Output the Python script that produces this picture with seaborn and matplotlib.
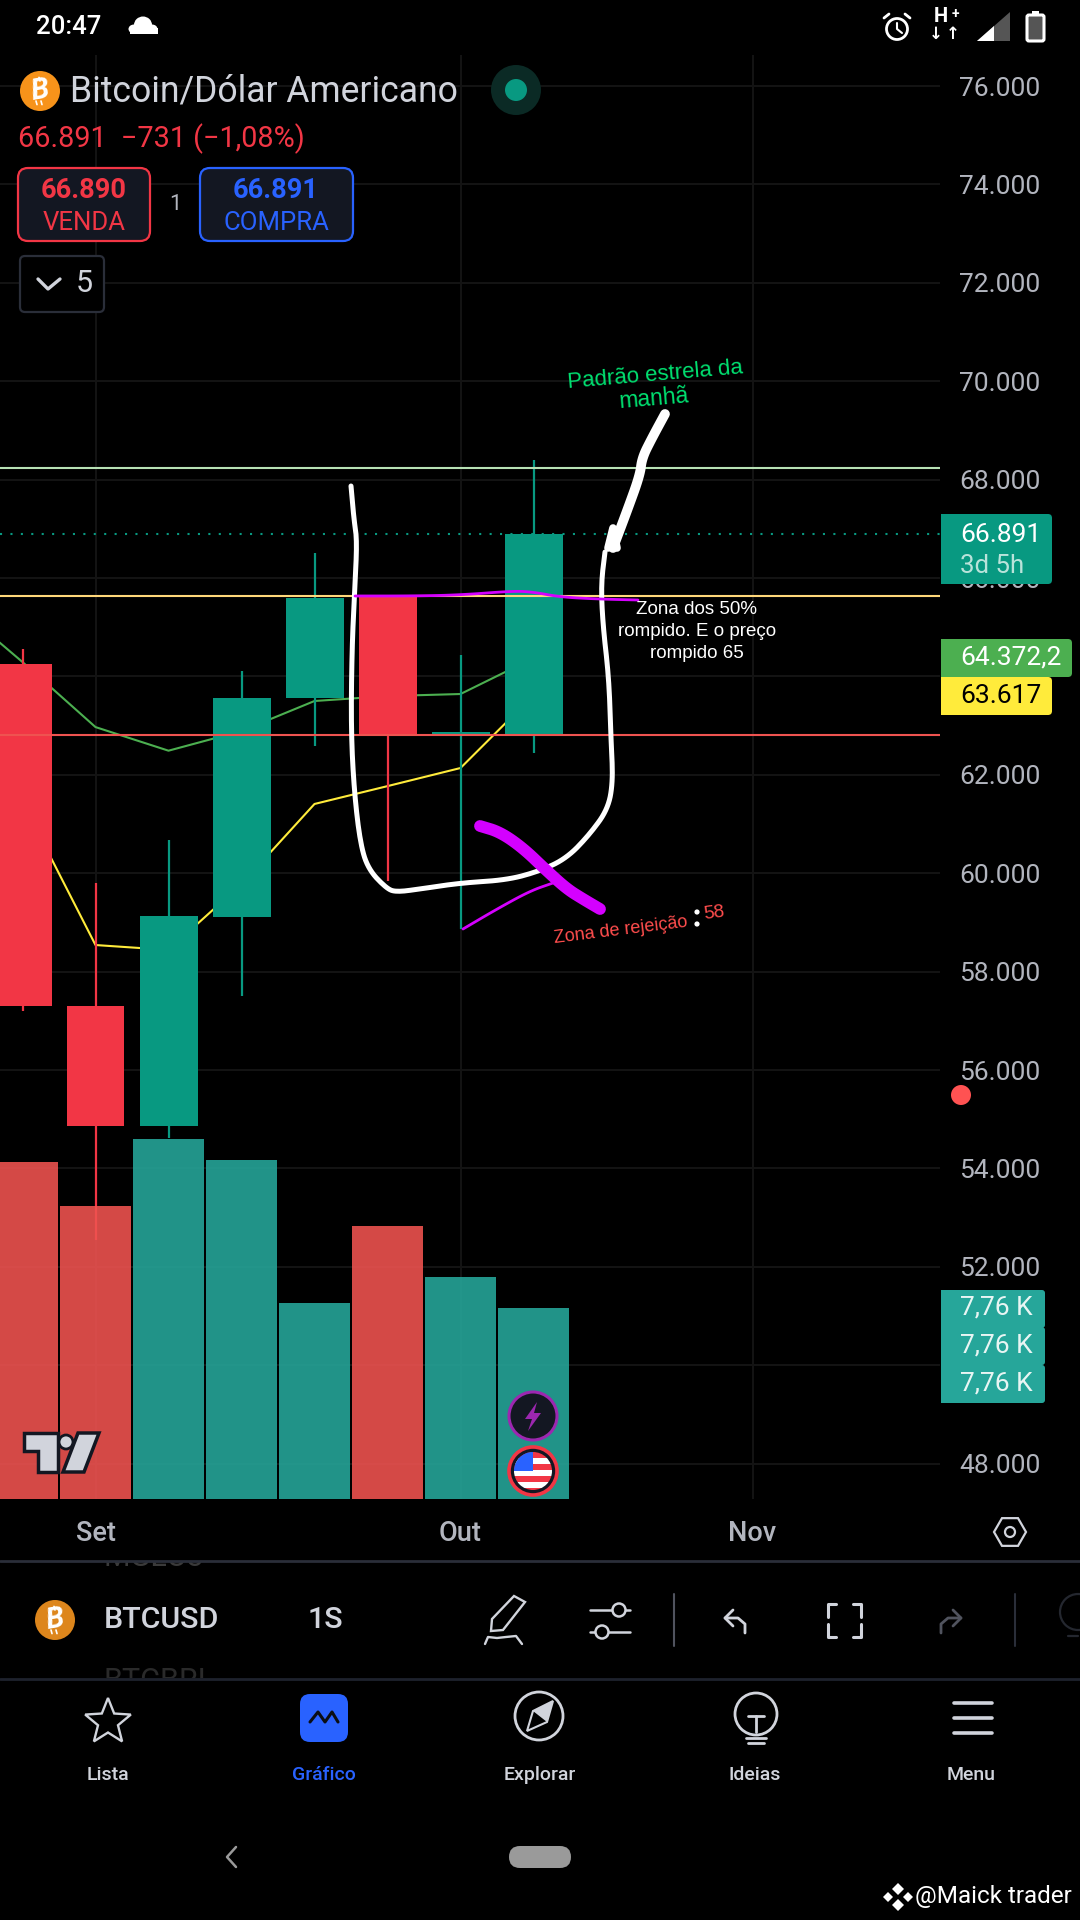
import numpy as np
import pandas as pd
import matplotlib
matplotlib.use("Agg")
import matplotlib.pyplot as plt
import seaborn as sns
from matplotlib.patches import Circle, FancyBboxPatch, Polygon, Rectangle, Ellipse
from matplotlib.ticker import FuncFormatter

# candles (semanal)
weeks = [0, 1, 2, 3, 4, 5, 6, 7]
opens = [64261, 57298, 54860, 59115, 63565, 65630, 62820, 62830]
highs = [64560, 59810, 60680, 64110, 66500, 65630, 64435, 68398]
lows = [57200, 52545, 54610, 57497, 62595, 59835, 58866, 62443]
closes = [57298, 54860, 59140, 63565, 65600, 62820, 62880, 66891]
volumes = [13680, 11890, 14620, 13780, 7960, 11090, 9000, 7760]

# medias moveis
ma_green_x = [-1, 0, 1, 2, 3, 4, 5, 6, 7]
ma_green = [65555, 64292, 62970, 62490, 62890, 63500, 63600, 63642, 64372.2]
ma_yellow_x = [0, 1, 2, 3, 4, 5, 6, 7]
ma_yellow = [61446, 58540, 58440, 59780, 61407, 61770, 62138, 63617]

# niveis horizontais
level_top = 68240
level_mid = 65634
level_low = 62815
last_price = 66891

price_ticks = list(range(48000, 76001, 2000))
month_pos = [1, 6, 10]
month_labels = ["Set", "Out", "Nov"]

W, H = 1080, 1920
BG = "#000000"
GREEN = "#089981"
RED = "#f23645"
BLUE = "#2962ff"
GRAY = "#b2b5be"
LIGHT = "#d1d4dc"

sns.set_theme(style="dark", rc={"figure.facecolor": BG, "axes.facecolor": BG,
                                "patch.force_edgecolor": False, "patch.edgecolor": "none"})
plt.rcParams["font.family"] = ["Roboto", "DejaVu Sans"]

fig = plt.figure(figsize=(W / 100, H / 100), dpi=100, facecolor=BG)

# caixa do grafico em pixels
left, right, top, bottom = 0, 940, 55, 1499
box = [left / W, 1 - bottom / H, (right - left) / W, (bottom - top) / H]
px_per_week = 73.0
px_per_price = 0.0492
xlim = ((left - 22.5) / px_per_week, (right - 22.5) / px_per_week)
ylim = (76000 - (bottom - 86) / px_per_price, 76000 + (86 - top) / px_per_price)

ax = fig.add_axes(box, zorder=1)
ax.set_facecolor(BG)

sns.lineplot(x=ma_green_x, y=ma_green, color="#4caf50", lw=1.5, ax=ax, zorder=2)
sns.lineplot(x=ma_yellow_x, y=ma_yellow, color="#ffeb3b", lw=1.5, ax=ax, zorder=2)

colors = [GREEN if c >= o else RED for o, c in zip(opens, closes)]
ax.vlines(weeks, lows, highs, colors=colors, lw=1.6, zorder=3)
ax.bar(weeks, [max(abs(c - o), 60) for o, c in zip(opens, closes)],
       bottom=[min(o, c) for o, c in zip(opens, closes)],
       width=58 / px_per_week, color=colors, edgecolor="none", linewidth=0, zorder=3)

ax.axhline(level_top, color="#b7e1b4", lw=1.5, zorder=4)
ax.axhline(level_mid, color="#ffd77a", lw=1.5, zorder=4)
ax.axhline(level_low, color="#ef5350", lw=1.5, zorder=4)
ax.axhline(last_price, color=GREEN, lw=1.5, ls=(0, (1, 4)), zorder=2)

ax.set_xlim(xlim)
ax.set_ylim(ylim)
ax.set_yticks(price_ticks)
ax.yaxis.set_major_formatter(FuncFormatter(lambda v, p: f"{int(v):,}".replace(",", ".")))
ax.yaxis.tick_right()
ax.set_xticks(month_pos)
ax.set_xticklabels(month_labels, fontweight="medium")
ax.tick_params(axis="y", length=0, pad=14, labelsize=19, labelcolor=GRAY)
ax.tick_params(axis="x", length=0, pad=15, labelsize=19.5, labelcolor=GRAY)
ax.set_xlabel("")
ax.set_ylabel("")
ax.grid(True, color="#131313", lw=1.5)
ax.set_axisbelow(True)
sns.despine(ax=ax, left=True, bottom=True)

# volume por cima, mesma caixa
ax_vol = fig.add_axes(box, zorder=2)
vol_df = pd.DataFrame({"week": weeks, "vol": volumes,
                       "dir": ["up" if c == GREEN else "down" for c in colors]})
sns.barplot(data=vol_df, x="week", y="vol", hue="dir", native_scale=True, dodge=False,
            palette={"up": "#26a69a", "down": "#ef5350"}, width=71 / px_per_week,
            saturation=1, alpha=0.89, legend=False, edgecolor="none", linewidth=0, ax=ax_vol)
ax_vol.set_xlim(xlim)
ax_vol.set_ylim(0, (bottom - top) * 40.62)
ax_vol.axis("off")
ax_vol.patch.set_alpha(0)

# camada em pixels: interface e desenhos
ui = fig.add_axes([0, 0, 1, 1], zorder=5)
ui.set_xlim(0, W)
ui.set_ylim(H, 0)
ui.axis("off")
ui.patch.set_alpha(0)


def rbox(x, y, w, h, r, fc, ec="none", lw=0, z=5):
    p = FancyBboxPatch((x + r, y + r), w - 2 * r, h - 2 * r,
                       boxstyle=f"round,pad={r},rounding_size={r}",
                       fc=fc, ec=ec, lw=lw, zorder=z)
    ui.add_patch(p)
    return p


def txt(x, y, s, size, color="white", ha="center", va="center", weight="normal", rot=0, z=8, **kw):
    return ui.text(x, y, s, fontsize=size, color=color, ha=ha, va=va, fontweight=weight,
                   rotation=rot, rotation_mode="anchor", zorder=z, **kw)


def ln(pts, color, lw=2, z=7, **kw):
    a = np.array(pts, dtype=float)
    ui.plot(a[:, 0], a[:, 1], color=color, lw=lw, zorder=z, solid_capstyle="round",
            solid_joinstyle="round", **kw)


def smooth(pts, n=3):
    a = np.array(pts, dtype=float)
    for _ in range(n):
        q = 0.75 * a[:-1] + 0.25 * a[1:]
        r = 0.25 * a[:-1] + 0.75 * a[1:]
        mid = np.empty((q.shape[0] * 2, 2))
        mid[0::2] = q
        mid[1::2] = r
        a = np.vstack([a[0], mid, a[-1]])
    return a


def btc_icon(x, y, r, color="#f7931a"):
    ui.add_patch(Circle((x, y), r, fc=color, ec="none", zorder=6))
    txt(x, y, "B", r * 1.05, "white", weight="bold", style="italic", rot=10)
    ln([(x - 1, y - r * 0.68), (x, y - r * 0.5)], "white", 1.2, z=8)
    ln([(x + 4, y - r * 0.62), (x + 5, y - r * 0.45)], "white", 1.2, z=8)
    ln([(x - 4, y + r * 0.5), (x - 3, y + r * 0.68)], "white", 1.2, z=8)
    ln([(x + 1, y + r * 0.5), (x + 2, y + r * 0.68)], "white", 1.2, z=8)


# barra de status
txt(36, 27, "20:47", 18.5, "white", ha="left", weight="medium")
ui.add_patch(Ellipse((143, 25), 18, 17, fc="white", zorder=6))
ui.add_patch(Ellipse((134, 29), 11, 9, fc="white", zorder=6))
ui.add_patch(Ellipse((152, 29), 11, 9, fc="white", zorder=6))
ui.add_patch(Rectangle((130, 28), 28, 6, fc="white", zorder=6))
ui.add_patch(Circle((897, 29), 10.5, fc="none", ec="white", lw=2, zorder=6))
ln([(897, 23), (897, 29), (902, 33)], "white", 1.5)
ln([(884, 18), (889, 14)], "white", 2)
ln([(905, 14), (910, 18)], "white", 2)
txt(941, 17, "H", 14.5, "white", weight="bold")
txt(955, 14, "+", 10, "white", weight="bold")
txt(936, 34, "↓", 12, "white", weight="bold", family=["DejaVu Sans"])
txt(953, 34, "↑", 12, "white", weight="bold", family=["DejaVu Sans"])
ui.add_patch(Polygon([(977, 41), (1010, 12), (1010, 41)], fc="#555555", zorder=6))
ui.add_patch(Polygon([(977, 41), (994, 26), (994, 41)], fc="white", zorder=6))
rbox(1027, 15, 17, 26, 2, "#555555", "white", 2.2)
ui.add_patch(Rectangle((1032, 11), 7, 4, fc="white", zorder=6))

# cabecalho
btc_icon(40, 91, 20)
txt(70, 92, "Bitcoin/Dólar Americano", 25.6, LIGHT, ha="left")
ui.add_patch(Circle((516, 90), 25, fc="#0b2a25", zorder=6))
ui.add_patch(Circle((516, 90), 11, fc=GREEN, zorder=7))
txt(18, 139, "66.891  −731 (−1,08%)", 20.7, RED, ha="left")

rbox(18, 168, 132, 73, 10, "#131722", RED, 1.6)
txt(84, 191, "66.890", 19.6, RED, weight="bold")
txt(84, 223, "VENDA", 18.5, RED)
txt(175, 204, "1", 15.5, GRAY)
rbox(200, 168, 153, 73, 10, "#131722", BLUE, 1.6)
txt(276, 191, "66.891", 19.6, BLUE, weight="bold")
txt(276, 223, "COMPRA", 18.5, BLUE)
rbox(20, 256, 84, 56, 5, BG, "#2a2e39", 1.6)
ln([(38, 279), (48, 289), (60, 279)], LIGHT, 2.4)
txt(84, 284, "5", 22, LIGHT)

# etiquetas do eixo de precos
rbox(941, 514, 111, 70, 4, GREEN)
ui.add_patch(Rectangle((941, 514), 8, 70, fc=GREEN, zorder=5))
txt(960, 535, "66.891", 19, "white", ha="left")
txt(960, 566, "3d 5h", 18.5, "#b9e3da", ha="left")
rbox(941, 639, 131, 38, 4, "#4caf50")
ui.add_patch(Rectangle((941, 639), 8, 38, fc="#4caf50", zorder=5))
txt(960, 657, "64.372,2", 19, "white", ha="left")
rbox(941, 677, 111, 38, 4, "#ffeb3b")
ui.add_patch(Rectangle((941, 677), 8, 38, fc="#ffeb3b", zorder=5))
txt(960, 696, "63.617", 19, "black", ha="left")
for y0 in [1290, 1327, 1365]:
    rbox(941, y0, 104, 38, 3, "#26a69a")
    ui.add_patch(Rectangle((941, y0), 8, 38, fc="#26a69a", zorder=5))
    txt(960, y0 + 18, "7,76 K", 19, "#e8f5f3", ha="left")
ui.add_patch(Circle((961, 1095), 10, fc="#ff5252", zorder=6))

# desenhos a mao
white_thin = [(351, 486), (354, 520), (357, 540), (355, 585), (352, 646), (351, 728), (354, 789),
              (360, 842), (368, 869), (387, 889), (397, 892), (420, 889), (460, 883), (507, 880),
              (540, 871), (567, 858), (590, 834), (608, 809), (613, 781), (611, 740), (609, 679),
              (603, 626), (601, 585), (605, 552)]
white_thick = [(613, 548), (627, 511), (640, 475), (642, 458), (652, 438), (665, 414)]
magenta_top = [(355, 596), (413, 596), (460, 595), (513, 591), (533, 592), (560, 597), (597, 599), (638, 600)]
magenta_thick = [(480, 826), (500, 832), (523, 848), (547, 871), (567, 889), (583, 899), (600, 909)]
magenta_low = [(463, 929), (497, 909), (530, 891), (553, 883)]

s = smooth(white_thin)
ui.plot(s[:, 0], s[:, 1], color="white", lw=3.6, zorder=7, solid_capstyle="round")
s = smooth(white_thick)
ui.plot(s[:, 0], s[:, 1], color="white", lw=7, zorder=7, solid_capstyle="round")
ln([(608, 548), (613, 528), (617, 548)], "white", 5.5)
s = smooth(magenta_top)
ui.plot(s[:, 0], s[:, 1], color="#d400ff", lw=2, zorder=7, solid_capstyle="round")
s = smooth(magenta_low)
ui.plot(s[:, 0], s[:, 1], color="#d400ff", lw=2, zorder=7, solid_capstyle="round")
s = smooth(magenta_thick)
ui.plot(s[:, 0], s[:, 1], color="#d400ff", lw=8.5, zorder=7.5, solid_capstyle="round")

ANN = ["Liberation Sans", "DejaVu Sans"]
txt(655, 375, "Padrão estrela da", 16, "#00e070", rot=4.8, family=ANN)
txt(654, 399, "manhã", 16.5, "#00e070", rot=4.8, family=ANN)
txt(697, 609, "Zona dos 50%", 13.5, "white", family=ANN)
txt(697, 631, "rompido. E o preço", 13.5, "white", family=ANN)
txt(697, 653, "rompido 65", 13.5, "white", family=ANN)
txt(621, 930, "Zona de rejeição", 13, "#ff4d4d", rot=7, family=ANN)
ui.add_patch(Circle((697, 912), 2.6, fc="white", zorder=8))
ui.add_patch(Circle((697, 924), 2.6, fc="white", zorder=8))
txt(714, 913, "58", 13.5, "#ff4d4d", rot=7, family=ANN)

# logo e icones no volume
ui.add_patch(Polygon([(24, 1433), (58, 1433), (58, 1472), (38, 1472), (38, 1451), (24, 1451)],
                     fc=LIGHT, ec="#131722", lw=2.5, zorder=6))
ui.add_patch(Circle((66, 1442), 7, fc=LIGHT, ec="#131722", lw=2, zorder=6))
ui.add_patch(Polygon([(78, 1433), (99, 1433), (84, 1472), (63, 1472)], fc=LIGHT, ec="#131722", lw=2.5, zorder=6))

ui.add_patch(Circle((533, 1416), 24, fc="#131722", ec="#9c27b0", lw=2.2, zorder=6))
ui.add_patch(Polygon([(537, 1402), (525, 1419), (532, 1419), (528, 1431), (541, 1413), (534, 1413)],
                     fc="#9c27b0", zorder=7))
clip = Circle((533, 1471), 19, transform=ui.transData)
ui.add_patch(Circle((533, 1471), 24, fc="#131722", ec=RED, lw=2.6, zorder=6))
for i, y0 in enumerate(range(1452, 1490, 6)):
    r_ = Rectangle((511, y0), 44, 6, fc=RED if i % 2 == 0 else "white", zorder=7)
    ui.add_patch(r_)
    r_.set_clip_path(clip)
r_ = Rectangle((511, 1449), 22, 22, fc="#2962ff", zorder=7.5)
ui.add_patch(r_)
r_.set_clip_path(clip)

# engrenagem
ang = np.deg2rad(np.arange(0, 360, 60))
ui.add_patch(Polygon(np.c_[1010 + 16 * np.cos(ang), 1532 + 16 * np.sin(ang)], fc="none", ec=LIGHT, lw=1.6, zorder=6))
ui.add_patch(Circle((1010, 1532), 5, fc="none", ec=LIGHT, lw=1.6, zorder=6))

# linhas e textos atras da barra
ui.plot([0, W], [1561, 1561], color="#2a2e39", lw=2, zorder=6)
ui.plot([0, W], [1679, 1679], color="#1e222d", lw=2, zorder=6)
c1 = Rectangle((0, 1562), W, 8, transform=ui.transData)
c2 = Rectangle((0, 1668), W, 10, transform=ui.transData)
t1 = txt(104, 1557, "MGLU3", 22, "#3a3a3a", ha="left", z=5, clip_on=True)
t1.set_clip_path(c1)
t2 = txt(104, 1681, "BTCBRL", 22, "#2a2a2a", ha="left", z=5, clip_on=True)
t2.set_clip_path(c2)

# barra de ferramentas
btc_icon(55, 1620, 20, "#dd861c")
txt(104, 1620, "BTCUSD", 21.9, LIGHT, ha="left", weight="medium")
txt(325, 1620, "1S", 21.9, LIGHT, weight="medium")
# lapis
ui.add_patch(Polygon([(492, 1619), (514, 1596), (525, 1602), (503, 1630), (491, 1631)], fc="none", ec=LIGHT, lw=1.7, zorder=7))
ln([(485, 1644), (488, 1637), (497, 1638), (506, 1637), (516, 1636), (522, 1644)], LIGHT, 1.7)
# ajustes
ln([(590, 1610), (630, 1610)], LIGHT, 1.8)
ln([(590, 1632), (630, 1632)], LIGHT, 1.8)
ui.add_patch(Circle((619, 1610), 6.5, fc=BG, ec=LIGHT, lw=1.8, zorder=8))
ui.add_patch(Circle((602, 1632), 6.5, fc=BG, ec=LIGHT, lw=1.8, zorder=8))
ln([(674, 1594), (674, 1646)], "#50535e", 1.5)
# desfazer
ln([(745, 1633), (745, 1624), (738, 1618), (725, 1618)], LIGHT, 2)
ln([(733, 1610), (725, 1618), (733, 1626)], LIGHT, 2)
# tela cheia
for xs, ys in [((828, 828, 836), (1617, 1604, 1604)), ((853, 861, 861), (1604, 1604, 1617)),
               ((828, 828, 836), (1624, 1637, 1637)), ((853, 861, 861), (1637, 1637, 1624))]:
    ln(list(zip(xs, ys)), LIGHT, 2.2)
# refazer
ln([(941, 1633), (941, 1624), (948, 1618), (961, 1618)], "#50535e", 2)
ln([(953, 1610), (961, 1618), (953, 1626)], "#50535e", 2)
ln([(1015, 1594), (1015, 1646)], "#2a2e39", 1.5)
# lampada apagada
ui.add_patch(Circle((1078, 1612), 18, fc="none", ec="#24272f", lw=1.6, zorder=7))
ln([(1068, 1636), (1078, 1636)], "#24272f", 1.6)

# barra de navegacao
star_a = np.deg2rad(np.arange(-90, 270, 36))
star_r = np.where(np.arange(10) % 2 == 0, 24, 10.5)
ui.add_patch(Polygon(np.c_[108 + star_r * np.cos(star_a), 1722 + star_r * np.sin(star_a)],
                     fc="none", ec=LIGHT, lw=1.7, zorder=7))
rbox(300, 1694, 48, 48, 10, BLUE)
ln([(310, 1722), (318, 1712), (325, 1722), (332, 1712), (338, 1722)], "#0b0e14", 2.2)
ui.add_patch(Circle((539, 1716), 24, fc="none", ec=LIGHT, lw=2, zorder=7))
ui.add_patch(Polygon([(553, 1701), (547, 1722), (527, 1731), (533, 1711)], fc="none", ec=LIGHT, lw=1.5, zorder=7))
ui.add_patch(Polygon([(553, 1701), (547, 1722), (533, 1711)], fc=LIGHT, zorder=7))
ui.add_patch(Circle((756, 1714), 21, fc="none", ec=LIGHT, lw=2, zorder=7))
ln([(748, 1716), (764, 1716)], LIGHT, 2)
ln([(756, 1716), (756, 1732)], LIGHT, 2)
ln([(746, 1738), (766, 1738)], LIGHT, 2)
ln([(748, 1743), (751, 1743), (761, 1743), (764, 1743)], LIGHT, 2)
for y0 in [1703, 1718, 1733]:
    ln([(954, y0), (992, y0)], LIGHT, 2.6)

tab_x = [108, 324, 540, 755, 971]
tab_labels = ["Lista", "Gráfico", "Explorar", "Ideias", "Menu"]
for x0, lab in zip(tab_x, tab_labels):
    txt(x0, 1775, lab, 14, BLUE if lab == "Gráfico" else LIGHT, weight="medium")

ln([(236, 1847), (227, 1857), (236, 1867)], "#9a9a9a", 1.8)
rbox(509, 1846, 62, 22, 11, "#9a9a9a")
ui.add_patch(Polygon([(898, 1883), (904, 1889), (898, 1895), (892, 1889)], fc="white", zorder=7))
ui.add_patch(Polygon([(888, 1892), (893, 1897), (888, 1902), (883, 1897)], fc="white", zorder=7))
ui.add_patch(Polygon([(908, 1892), (913, 1897), (908, 1902), (903, 1897)], fc="white", zorder=7))
ui.add_patch(Polygon([(898, 1899), (904, 1905), (898, 1911), (892, 1905)], fc="white", zorder=7))
txt(915, 1897, "@Maick trader", 17.5, "white", ha="left")

fig.savefig("out.png", dpi=100, facecolor=BG)
